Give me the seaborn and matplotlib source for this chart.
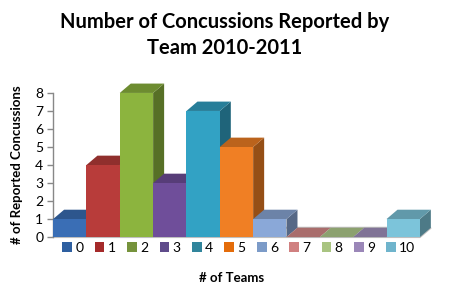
import matplotlib
matplotlib.use("Agg")
import matplotlib.pyplot as plt
import seaborn as sns
import pandas as pd
from matplotlib.patches import Polygon, Patch
from matplotlib.colors import to_rgb

categories = ["0", "1", "2", "3", "4", "5", "6", "7", "8", "9", "10"]
values = [1, 4, 8, 3, 7, 5, 1, 0, 0, 0, 1]
front_colors = ["#3A6EB5", "#B83C3A", "#8CB43E", "#6F4E9A", "#32A2C4", "#F07F24",
                "#8AA8D8", "#D98C8B", "#B4CF8E", "#A493C0", "#7CC4DA"]
legend_colors = ["#2E5FA0", "#A52A2A", "#76933C", "#5F4B8B", "#31859C", "#E46C0A",
                 "#7C9BC8", "#D08080", "#A9C481", "#9B87B8", "#6FB4CC"]
title = "Number of Concussions Reported by\nTeam 2010-2011"
ylabel = "# of Reported Concussions"
xlabel = "# of Teams"
yticks = [0, 1, 2, 3, 4, 5, 6, 7, 8]

sns.set_theme(style="white")
plt.rcParams["font.family"] = ["Lato", "DejaVu Sans"]
plt.rcParams["text.color"] = "black"
plt.rcParams["axes.labelcolor"] = "black"
plt.rcParams["ytick.color"] = "#888888"
plt.rcParams["ytick.labelcolor"] = "black"

df = pd.DataFrame({"team": categories, "count": values})

fig = plt.figure(figsize=(4.5, 2.96), dpi=100)
ax = fig.add_axes([0.118, 0.199, 0.815, 0.487])
sns.barplot(data=df, x="team", y="count", hue="team", order=categories,
            hue_order=categories, palette=front_colors, width=1.0,
            legend=False, ax=ax, saturation=1, linewidth=0)
bars = list(ax.patches)

ax.set_xlim(-0.5, 10.5)
ax.set_ylim(0, 8)
dx, dy = 0.33, 0.52


def shade(c, f):
    r, g, b = to_rgb(c)
    return (r * f, g * f, b * f)


# floor
floor = Polygon([(-0.5, 0), (10.5, 0), (10.5 + dx, dy), (-0.5 + dx, dy)],
                closed=True, facecolor="#FAFAFA", edgecolor="#BFBFBF",
                lw=1.4, zorder=1, clip_on=False)
ax.add_patch(floor)

for i, p in enumerate(bars):
    x0 = p.get_x()
    w = p.get_width()
    h = p.get_height()
    col = front_colors[i % len(front_colors)]
    base = 10 + 3 * i
    side = Polygon([(x0 + w, 0), (x0 + w + dx, dy), (x0 + w + dx, h + dy), (x0 + w, h)],
                   closed=True, facecolor=shade(col, 0.62), edgecolor="none",
                   zorder=base, clip_on=False)
    top = Polygon([(x0, h), (x0 + dx, h + dy), (x0 + w + dx, h + dy), (x0 + w, h)],
                  closed=True, facecolor=shade(col, 0.78), edgecolor="none",
                  zorder=base + 1, clip_on=False)
    ax.add_patch(side)
    ax.add_patch(top)
    p.set_zorder(base + 2)
    p.set_clip_on(False)

ax.set_yticks(yticks)
ax.set_xticks([])
ax.set_xlabel("")
ax.set_ylabel(ylabel, fontsize=9.5, fontweight="bold", labelpad=9, color="black")
ax.tick_params(axis="y", labelsize=10, length=4, width=1, color="#888888",
               labelcolor="black", direction="out", left=True, pad=3)
for s in ["top", "right", "bottom"]:
    ax.spines[s].set_visible(False)
ax.spines["left"].set_color("#888888")
ax.spines["left"].set_linewidth(1)

fig.text(0.5, 0.958, title, ha="center", va="top", fontsize=14.5,
         fontweight="bold", linespacing=1.35, color="black")
fig.text(0.515, 0.06, xlabel, ha="center", va="center", fontsize=9.5,
         fontweight="bold", color="black")

handles = [Patch(facecolor=c, edgecolor="none") for c in legend_colors]
fig.legend(handles, categories, loc="center", bbox_to_anchor=(0.531, 0.163),
           ncol=11, frameon=False, fontsize=10, handlelength=0.7,
           handleheight=0.7, handletextpad=0.25, columnspacing=0.8,
           borderaxespad=0, borderpad=0, labelcolor="black")

fig.savefig("out.png", dpi=100, facecolor="white")
